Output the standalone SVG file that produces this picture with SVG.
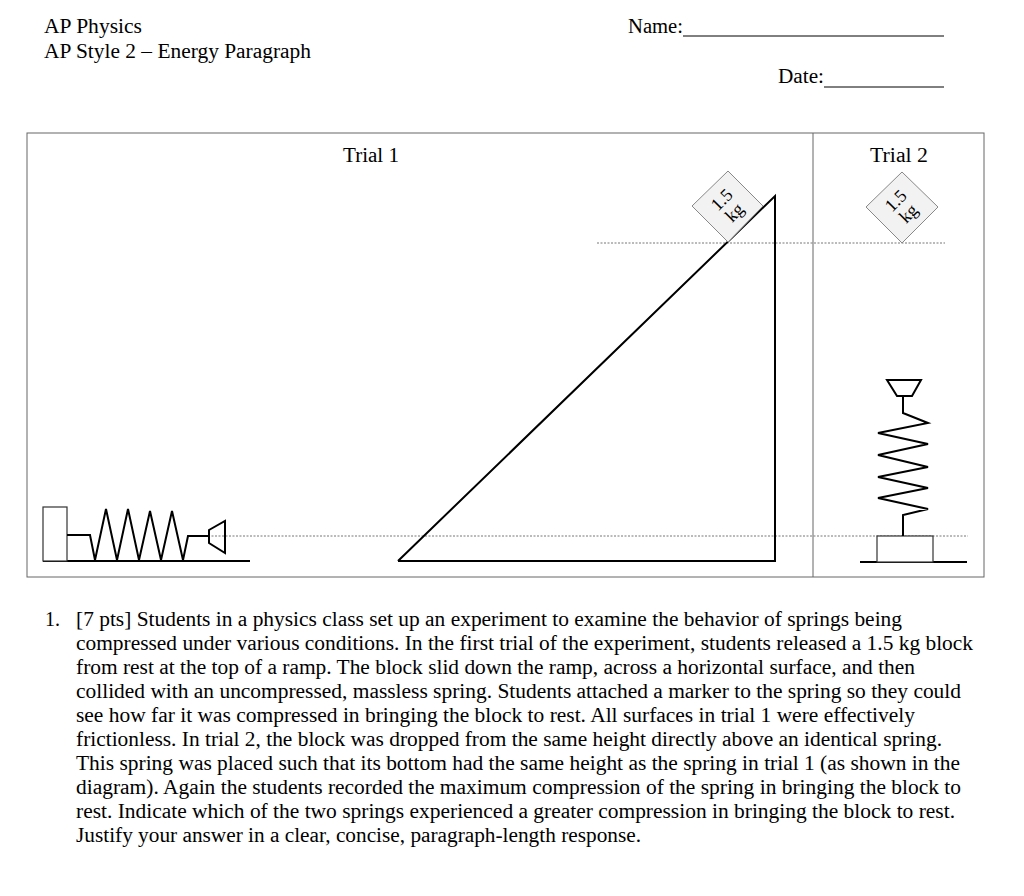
<svg xmlns="http://www.w3.org/2000/svg" width="1024" height="896" viewBox="0 0 1024 896">
<style>
text{font-family:"Liberation Serif","Times New Roman",serif;fill:#000}
.h{font-size:20px}.p{font-size:20px}.b{font-size:18px}
.ln{stroke:#000;stroke-width:2;fill:none}
.dot{stroke:#777;stroke-width:1;stroke-dasharray:2 1.5;fill:none}
.blk{fill:#f2f2f2;stroke:#888;stroke-width:1}
</style>
<rect width="1024" height="896" fill="#fff"/>
<g id="header">
<text class="h" x="44" y="33" textLength="98" lengthAdjust="spacingAndGlyphs">AP Physics</text>
<text class="h" x="44" y="58" textLength="267" lengthAdjust="spacingAndGlyphs">AP Style 2 – Energy Paragraph</text>
<text class="h" x="628" y="33" textLength="55" lengthAdjust="spacingAndGlyphs">Name:</text>
<line x1="683" y1="36" x2="944" y2="36" stroke="#000"/>
<text class="h" x="778" y="83" textLength="46" lengthAdjust="spacingAndGlyphs">Date:</text>
<line x1="824" y1="87" x2="944" y2="87" stroke="#000"/>
</g>
<g id="frame">
<rect x="27" y="133" width="957" height="444" fill="none" stroke="#666" stroke-width="1"/>
<line x1="813" y1="133" x2="813" y2="577" stroke="#666"/>
<text class="h" x="343" y="162" textLength="56" lengthAdjust="spacingAndGlyphs">Trial 1</text>
<text class="h" x="870" y="162" textLength="58" lengthAdjust="spacingAndGlyphs">Trial 2</text>
</g>
<g id="connectors">
<line class="dot" x1="208" y1="536" x2="968" y2="536"/>
<line class="dot" x1="597" y1="243" x2="945" y2="243"/>
</g>
<g id="trial1-spring">
<line class="ln" x1="43" y1="561" x2="250" y2="561"/>
<rect x="43" y="507" width="24" height="54" fill="#fff" stroke="#333" stroke-width="1.2"/>
<polyline class="ln" points="67,535 90,535 95,560 106,509 117,560 128,509 139,560 150,511 161,560 172,511 183,560 188,536 209,536"/>
<polygon class="ln" points="209,530 225,521 225,553 209,543" fill="#fff"/>
</g>
<g id="ramp">
<polyline class="ln" points="398,561 775,196 775,561 398,561"/>
</g>
<g id="block1">
<polygon class="blk" points="728,171 763,206 728,242 692,206"/>
<g transform="translate(728,206) rotate(-45)">
<text class="b" x="0" y="-3" text-anchor="middle">1.5</text>
<text class="b" x="0" y="15" text-anchor="middle">kg</text>
</g>
</g>
<g id="block2">
<polygon class="blk" points="902,172 938,207 902,243 866,207"/>
<g transform="translate(902,207) rotate(-45)">
<text class="b" x="0" y="-3" text-anchor="middle">1.5</text>
<text class="b" x="0" y="15" text-anchor="middle">kg</text>
</g>
</g>
<g id="trial2-spring">
<line class="ln" x1="860" y1="562" x2="967" y2="562"/>
<rect x="877" y="536" width="56" height="26" fill="#fff" stroke="#333" stroke-width="1.2"/>
<polygon class="ln" points="887,380 921,380 912,396 897,396" fill="#fff"/>
<polyline class="ln" points="903,396 903,413 928,423 878,433 928,444 878,455 928,467 878,477 928,488 878,498 928,509 903,515 903,536"/>
</g>
<g id="question">
<text class="p" x="45" y="626">1.</text>
<text class="p" x="76" y="626" textLength="826" lengthAdjust="spacingAndGlyphs">[7 pts] Students in a physics class set up an experiment to examine the behavior of springs being</text>
<text class="p" x="76" y="650" textLength="897" lengthAdjust="spacingAndGlyphs">compressed under various conditions. In the first trial of the experiment, students released a 1.5 kg block</text>
<text class="p" x="76" y="674" textLength="839" lengthAdjust="spacingAndGlyphs">from rest at the top of a ramp. The block slid down the ramp, across a horizontal surface, and then</text>
<text class="p" x="76" y="698" textLength="885" lengthAdjust="spacingAndGlyphs">collided with an uncompressed, massless spring. Students attached a marker to the spring so they could</text>
<text class="p" x="76" y="722" textLength="839" lengthAdjust="spacingAndGlyphs">see how far it was compressed in bringing the block to rest. All surfaces in trial 1 were effectively</text>
<text class="p" x="76" y="746" textLength="866" lengthAdjust="spacingAndGlyphs">frictionless. In trial 2, the block was dropped from the same height directly above an identical spring.</text>
<text class="p" x="76" y="770" textLength="884" lengthAdjust="spacingAndGlyphs">This spring was placed such that its bottom had the same height as the spring in trial 1 (as shown in the</text>
<text class="p" x="76" y="794" textLength="885" lengthAdjust="spacingAndGlyphs">diagram). Again the students recorded the maximum compression of the spring in bringing the block to</text>
<text class="p" x="76" y="818" textLength="879" lengthAdjust="spacingAndGlyphs">rest. Indicate which of the two springs experienced a greater compression in bringing the block to rest.</text>
<text class="p" x="76" y="842" textLength="565" lengthAdjust="spacingAndGlyphs">Justify your answer in a clear, concise, paragraph-length response.</text>
</g>
</svg>
